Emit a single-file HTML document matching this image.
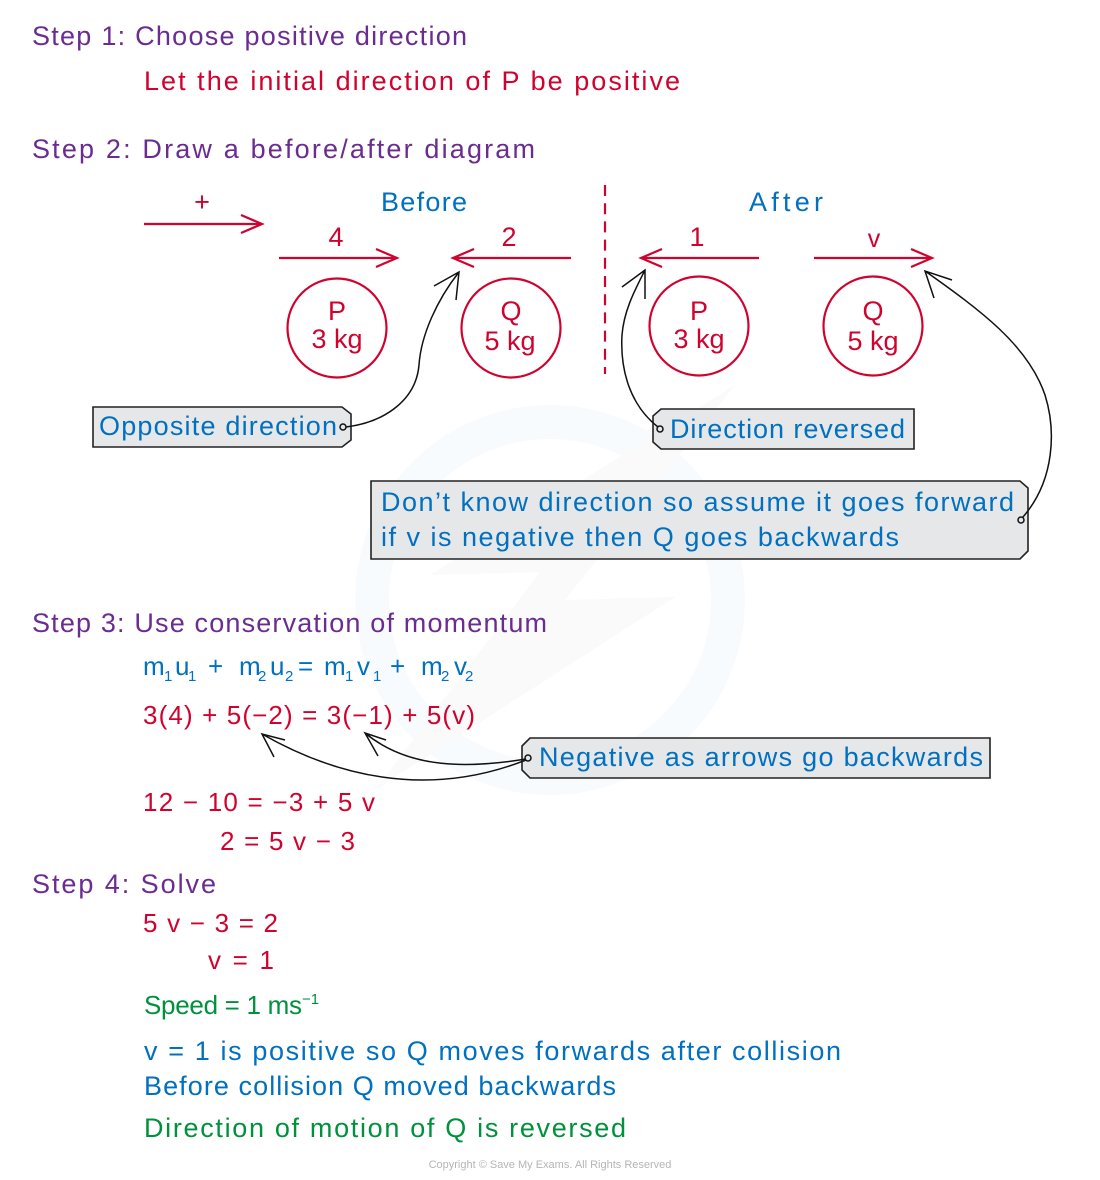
<!DOCTYPE html>
<html><head><meta charset="utf-8"><style>
html,body{margin:0;padding:0;background:#fff}
svg{display:block}
text{font-family:"Liberation Sans",sans-serif;font-size:27px}
.p{fill:#6a2c91}.r{fill:#d0032f}.b{fill:#0070c0}.g{fill:#00913c}
.a{fill:none;stroke:#d0032f;stroke-width:2.2}
.k{fill:none;stroke:#111;stroke-width:1.5}
.box{fill:#e6e7e8;stroke:#222;stroke-width:1.6}
.dot{fill:none;stroke:#111;stroke-width:1.5}
.m{font-size:26px}
.s{font-size:15px}
</style></head><body>
<svg width="1100" height="1180" viewBox="0 0 1100 1180" xmlns="http://www.w3.org/2000/svg">
<g>
<circle cx="550" cy="600" r="178" fill="none" stroke="#f8fbfd" stroke-width="34"/>
<polygon points="735,385 430,575 540,572 375,790 675,597 565,600" fill="#fafafa"/>
</g>

<text class="p" x="32" y="45" textLength="435" lengthAdjust="spacing">Step 1: Choose positive direction</text>
<text class="r" x="144" y="90" textLength="536" lengthAdjust="spacing">Let the initial direction of P be positive</text>
<text class="p" x="32" y="158" textLength="503" lengthAdjust="spacing">Step 2: Draw a before/after diagram</text>

<text class="b" x="381" y="211" textLength="86" lengthAdjust="spacing">Before</text>
<text class="b" x="749" y="211" textLength="74" lengthAdjust="spacing">After</text>
<line x1="605" y1="185" x2="605" y2="374" stroke="#d0032f" stroke-width="2.2" stroke-dasharray="11 7.2"/>

<text class="r" x="202" y="211" text-anchor="middle">+</text>
<path class="a" d="M144 224H262M241 215L262 224L241 233"/>
<text class="r" x="336" y="246" text-anchor="middle">4</text>
<path class="a" d="M279 258H397M376 249L397 258L376 267"/>
<text class="r" x="509" y="246" text-anchor="middle">2</text>
<path class="a" d="M571 258H453M474 249L453 258L474 267"/>
<text class="r" x="697" y="246" text-anchor="middle">1</text>
<path class="a" d="M759 258H641M662 249L641 258L662 267"/>
<text class="r" x="874" y="247" text-anchor="middle" style="font-size:25px">v</text>
<path class="a" d="M814 258H932M911 249L932 258L911 267"/>

<circle class="a" cx="337" cy="328" r="49.5"/>
<circle class="a" cx="511" cy="328" r="49.5"/>
<circle class="a" cx="699" cy="326" r="49.5"/>
<circle class="a" cx="873" cy="326" r="49.5"/>
<text class="r" x="337" y="320" text-anchor="middle">P</text>
<text class="r" x="337" y="348" text-anchor="middle">3 kg</text>
<text class="r" x="511" y="320" text-anchor="middle">Q</text>
<text class="r" x="510" y="350" text-anchor="middle">5 kg</text>
<text class="r" x="699" y="320" text-anchor="middle">P</text>
<text class="r" x="699" y="348" text-anchor="middle">3 kg</text>
<text class="r" x="873" y="320" text-anchor="middle">Q</text>
<text class="r" x="873" y="350" text-anchor="middle">5 kg</text>

<polygon class="box" points="93,407 342,407 351,414 351,440 342,447 93,447"/>
<text class="b" x="99" y="435" textLength="238" lengthAdjust="spacing">Opposite direction</text>
<circle class="dot" cx="343" cy="427" r="3"/>
<path class="k" d="M346 427C385 422 416 400 419 365C421 335 437 300 459 272M434 286L459 272L456 300"/>

<polygon class="box" points="661,409 914,409 914,449 661,449 653,442 653,416" />
<text class="b" x="670" y="438" textLength="235" lengthAdjust="spacing">Direction reversed</text>
<circle class="dot" cx="660" cy="429" r="3"/>
<path class="k" d="M658 427C630 405 620 370 622 335C624 310 635 290 645 270M622 287L645 270L645 299"/>

<polygon class="box" points="371,481 1020,481 1028,488 1028,551 1020,559 371,559"/>
<text class="b" x="381" y="511" textLength="633" lengthAdjust="spacing">Don’t know direction so assume it goes forward</text>
<text class="b" x="381" y="546" textLength="518" lengthAdjust="spacing">if v is negative then Q goes backwards</text>
<circle class="dot" cx="1021" cy="520" r="3"/>
<path class="k" d="M1023 517C1055 480 1056 430 1045 395C1028 345 980 310 925 271M952 280L925 271L934 298"/>

<text class="p" x="32" y="632" textLength="515" lengthAdjust="spacing">Step 3: Use conservation of momentum</text>
<g class="b">
<text class="b m" x="143" y="675">m</text><text class="b s" x="164" y="681">1</text>
<text class="b m" x="175" y="675">u</text><text class="b s" x="188" y="681">1</text>
<text class="b m" x="208" y="675">+</text>
<text class="b m" x="239" y="675">m</text><text class="b s" x="258" y="681">2</text>
<text class="b m" x="270" y="675">u</text><text class="b s" x="285" y="681">2</text>
<text class="b m" x="298" y="675">=</text>
<text class="b m" x="324" y="675">m</text><text class="b s" x="345" y="681">1</text>
<text class="b m" x="357" y="675">v</text><text class="b s" x="373" y="681">1</text>
<text class="b m" x="390" y="675">+</text>
<text class="b m" x="421" y="675">m</text><text class="b s" x="441" y="681">2</text>
<text class="b m" x="454" y="675">v</text><text class="b s" x="465" y="681">2</text>
</g>
<text class="r m" x="143" y="724" textLength="332" lengthAdjust="spacing">3(4) + 5(−2) = 3(−1) + 5(v)</text>

<polygon class="box" points="530,738 990,738 990,778 530,778 522,770 522,746"/>
<text class="b" x="539" y="766" textLength="444" lengthAdjust="spacing">Negative as arrows go backwards</text>
<circle class="dot" cx="528" cy="758" r="3"/>
<path class="k" d="M526 759C470 768 410 770 365 733M386 740L365 733L378 756"/>
<path class="k" d="M526 760C450 790 360 790 262 734M285 740L262 734L274 757"/>

<text class="r m" x="143" y="811" textLength="232" lengthAdjust="spacing">12 − 10 = −3 + 5 v</text>
<text class="r m" x="220" y="850" textLength="135" lengthAdjust="spacing">2 = 5 v − 3</text>
<text class="p" x="32" y="893" textLength="184" lengthAdjust="spacing">Step 4: Solve</text>
<text class="r m" x="143" y="932" textLength="135" lengthAdjust="spacing">5 v − 3 = 2</text>
<text class="r m" x="208" y="969" textLength="66" lengthAdjust="spacing">v = 1</text>
<text class="g m" x="144" y="1014" textLength="158" lengthAdjust="spacing">Speed = 1 ms</text><text class="g s" x="302" y="1004">−1</text>
<text class="b" x="144" y="1060" textLength="697" lengthAdjust="spacing">v = 1 is positive so Q moves forwards after collision</text>
<text class="b" x="144" y="1095" textLength="472" lengthAdjust="spacing">Before collision Q moved backwards</text>
<text class="g" x="144" y="1137" textLength="482" lengthAdjust="spacing">Direction of motion of Q is reversed</text>
<text x="550" y="1168" text-anchor="middle" fill="#b5b5b5" style="font-size:11px">Copyright © Save My Exams. All Rights Reserved</text>
</svg>
</body></html>
